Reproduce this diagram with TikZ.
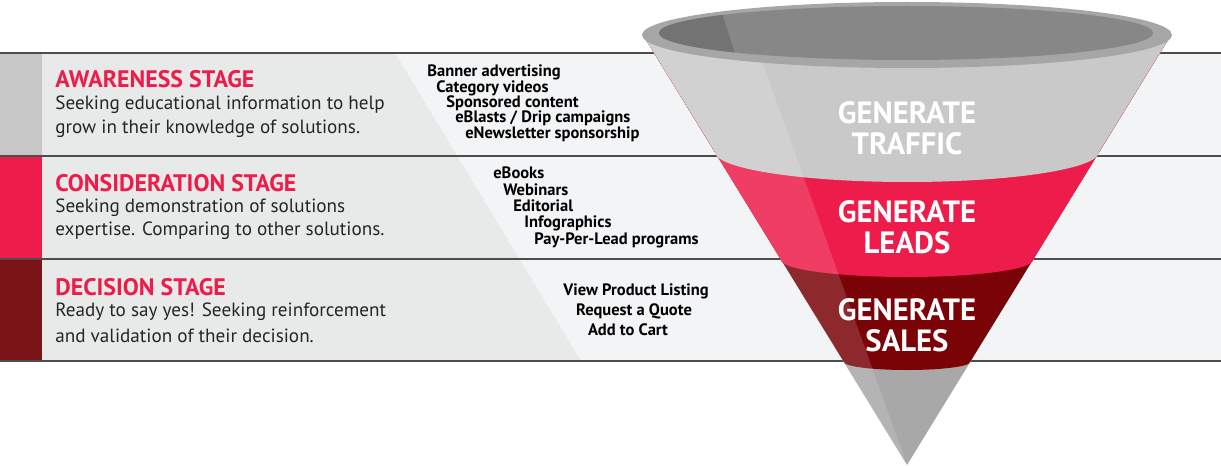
\documentclass[tikz,border=0pt]{standalone}
\usepackage{fontspec}
\setmainfont{PT Sans}
\begin{document}
\begin{tikzpicture}[x=0.02cm,y=-0.02cm,
 title/.style={anchor=west,font=\fontsize{13.6}{14}\selectfont\bfseries,text=stred,inner sep=0},
 body/.style={anchor=west,font=\fontsize{10.9}{11}\selectfont,text=black!85,inner sep=0},
 item/.style={anchor=west,font=\fontsize{9.4}{10}\selectfont\bfseries,inner sep=0},
 itemc/.style={font=\fontsize{9.4}{10}\selectfont\bfseries,inner sep=0},
 gen/.style={font=\fontsize{17.5}{18}\selectfont\bfseries,text=white,inner sep=0,text height=0.7em,text depth=0pt},
 sep/.style={draw=lineg,line width=1.7pt}]
\definecolor{stred}{HTML}{ED1C4A}
\definecolor{dkred}{HTML}{7A1416}
\definecolor{salesred}{HTML}{7A0308}
\definecolor{lineg}{HTML}{4D4D4D}
\definecolor{bandL}{HTML}{E8E9E9}
\definecolor{bandR}{HTML}{F3F4F6}
\useasboundingbox (0,0) rectangle (1221,466);
% bands
\fill[bandR] (0,53) rectangle (1221,361);
\fill[bandL] (0,53) -- (395,53) -- (581,361) -- (0,361) -- cycle;
\fill[black!22] (0,53) rectangle (42,156);
\fill[stred] (0,156) rectangle (42,259);
\fill[dkred] (0,259) rectangle (42,361);
\foreach \y in {53,156,259,361} \draw[sep] (0,\y) -- (1221,\y);
% funnel
\fill[black!34] (643,35) -- (1171,35) -- (907,465) -- cycle;
\fill[salesred] (844,362) -- (643,35) -- (1171,35) -- (970,362) arc[start angle=0,end angle=180,x radius=63,y radius=8] -- cycle;
\fill[stred] (781,260) -- (643,35) -- (1171,35) -- (1033,260) arc[start angle=0,end angle=180,x radius=126,y radius=17] -- cycle;
\fill[black!21] (715,152) -- (643,35) -- (1171,35) -- (1099,152) arc[start angle=0,end angle=180,x radius=192,y radius=30] -- cycle;
\begin{scope}
\clip (643,35) -- (1171,35) -- (907,465) -- cycle;
\fill[white,opacity=0.15] (600,0) -- (740,0) -- (907,465) -- (600,465) -- cycle;
\end{scope}
\fill[black!35] (907,35) ellipse[x radius=265,y radius=33];
\fill[black!47] (906,33) ellipse[x radius=247,y radius=27];
\begin{scope}
\clip (906,33) ellipse[x radius=247,y radius=27];
\fill[black!55] (600,0) -- (718,0) -- (740,70) -- (600,70) -- cycle;
\end{scope}
\node[gen] (gt1) at (907,117) {GENERATE};
\node[gen] (gt2) at (907,148) {TRAFFIC};
\node[gen] (gl1) at (907,216) {GENERATE};
\node[gen] (gl2) at (907,247) {LEADS};
\node[gen] (gs1) at (907,314) {GENERATE};
\node[gen] (gs2) at (907,345) {SALES};
% stage texts
\node[title] (t1) at (55,79) {AWARENESS STAGE};
\node[body] (b1a) at (55,105) {Seeking educational information to help};
\node[body] (b1b) at (55,129) {grow in their knowledge of solutions.};
\node[title] (t2) at (55,183) {CONSIDERATION STAGE};
\node[body] (b2a) at (55,208) {Seeking demonstration of solutions};
\node[body] (b2b) at (55,231) {expertise. Comparing to other solutions.};
\node[title] (t3) at (55,287) {DECISION STAGE};
\node[body] (b3a) at (55,312) {Ready to say yes! Seeking reinforcement};
\node[body] (b3b) at (55,336) {and validation of their decision.};
% items
\node[item] (i1) at (427,72) {Banner advertising};
\node[item] (i2) at (436,88) {Category videos};
\node[item] (i3) at (446,103) {Sponsored content};
\node[item] (i4) at (455,118) {eBlasts / Drip campaigns};
\node[item] (i5) at (465,134) {eNewsletter sponsorship};
\node[item] (j1) at (493,173) {eBooks};
\node[item] (j2) at (503,190) {Webinars};
\node[item] (j3) at (513,206) {Editorial};
\node[item] (j4) at (524,223) {Infographics};
\node[item] (j5) at (534,240) {Pay-Per-Lead programs};
\node[itemc] (k1) at (636,291) {View Product Listing};
\node[itemc] (k2) at (634,311) {Request a Quote};
\node[itemc] (k3) at (628,330) {Add to Cart};
\end{tikzpicture}
\end{document}
